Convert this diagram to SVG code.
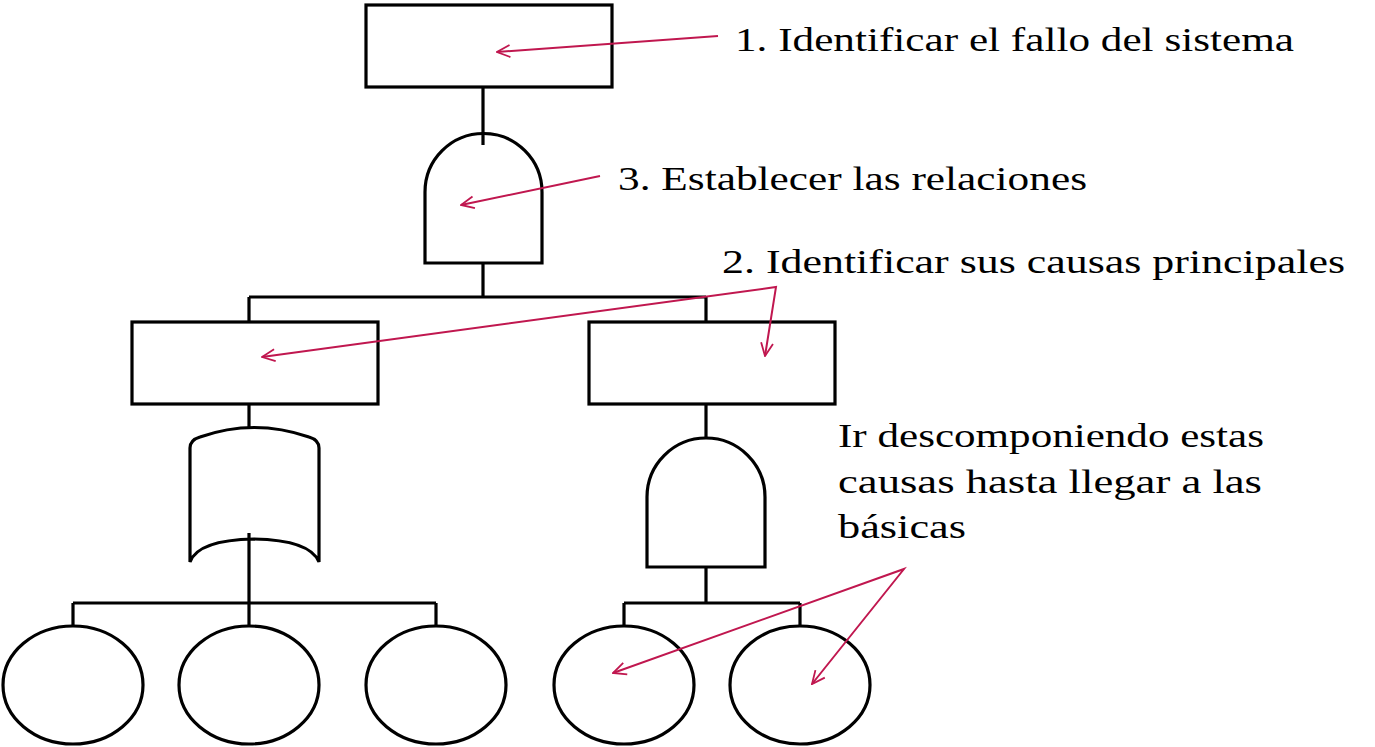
<svg xmlns="http://www.w3.org/2000/svg" width="1375" height="747" viewBox="0 0 1375 747">
<defs>
<marker id="ah" viewBox="0 0 16 16" refX="15" refY="8" markerWidth="16" markerHeight="16" markerUnits="userSpaceOnUse" orient="auto-start-reverse">
<path d="M2,2 L15,8 L2,14" fill="none" stroke="#C0174F" stroke-width="1.8"/>
</marker>
<style>
.s{fill:none;stroke:#000;stroke-width:3.2;stroke-linejoin:miter}
.a{fill:none;stroke:#C0174F;stroke-width:2}
.t{font-family:"Liberation Serif","DejaVu Serif",serif;font-size:34px;fill:#000}
</style>
</defs>
<rect width="1375" height="747" fill="#fff"/>
<g id="connectors">
<path class="s" d="M483,87 V145"/>
<path class="s" d="M483,263 V297 M249,297 H706 M249,297 V322 M706,297 V322"/>
<path class="s" d="M249,404 V428"/>
<path class="s" d="M249,533 V626 M73,603 H436 M73,603 V626 M436,603 V626"/>
<path class="s" d="M706,404 V438"/>
<path class="s" d="M706,567 V603 M624,603 H800 M624,603 V626 M800,603 V626"/>
</g>
<g id="top-event"><rect class="s" x="366" y="5" width="246" height="82"/></g>
<g id="and-gate-top"><path class="s" d="M425,263 V192 A58.5,58.5 0 0 1 542,192 V263 Z"/></g>
<g id="event-left"><rect class="s" x="132" y="322" width="246" height="82"/></g>
<g id="event-right"><rect class="s" x="589" y="322" width="246" height="82"/></g>
<g id="or-gate-left"><path class="s" d="M190,562 V448 Q190,440 200,437 Q254,418 309,437 Q319,440 319,448 V562 Q310,540 254,539 Q198,540 190,562 Z"/></g>
<g id="and-gate-right"><path class="s" d="M647,567 V497 A59,59 0 0 1 765,497 V567 Z"/></g>
<g id="basic-1"><ellipse class="s" cx="73" cy="685" rx="70" ry="59"/></g>
<g id="basic-2"><ellipse class="s" cx="249" cy="685" rx="70" ry="59"/></g>
<g id="basic-3"><ellipse class="s" cx="436" cy="685" rx="70" ry="59"/></g>
<g id="basic-4"><ellipse class="s" cx="624" cy="685" rx="70" ry="59"/></g>
<g id="basic-5"><ellipse class="s" cx="800" cy="685" rx="70" ry="59"/></g>
<g id="annotations">
<line class="a" x1="718" y1="36" x2="497" y2="52" marker-end="url(#ah)"/>
<line class="a" x1="600" y1="176" x2="461" y2="205" marker-end="url(#ah)"/>
<path class="a" d="M262,357 L776,287 L765,356" marker-start="url(#ah)" marker-end="url(#ah)"/>
<path class="a" d="M613,673 L904,569 L812,684" marker-start="url(#ah)" marker-end="url(#ah)"/>
</g>
<g id="labels">
<text class="t" x="735" y="51" textLength="559" lengthAdjust="spacingAndGlyphs">1. Identificar el fallo del sistema</text>
<text class="t" x="618" y="190" textLength="469" lengthAdjust="spacingAndGlyphs">3. Establecer las relaciones</text>
<text class="t" x="722" y="273" textLength="623" lengthAdjust="spacingAndGlyphs">2. Identificar sus causas principales</text>
<text class="t" x="838" y="447" textLength="426" lengthAdjust="spacingAndGlyphs">Ir descomponiendo estas</text>
<text class="t" x="838" y="493" textLength="424" lengthAdjust="spacingAndGlyphs">causas hasta llegar a las</text>
<text class="t" x="838" y="538" textLength="128" lengthAdjust="spacingAndGlyphs">básicas</text>
</g>
</svg>
